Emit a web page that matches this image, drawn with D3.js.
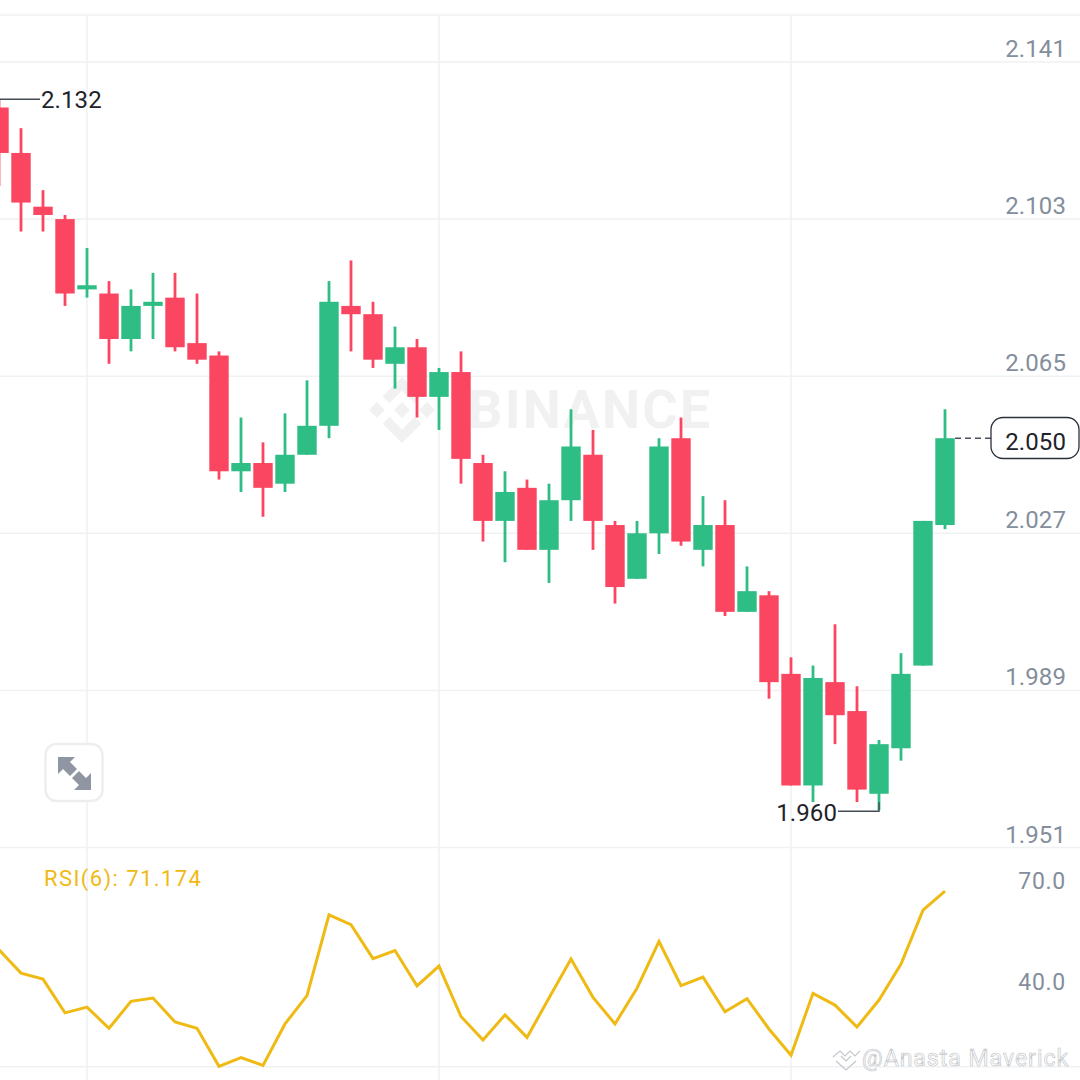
<!DOCTYPE html>
<html>
<head>
<meta charset="utf-8">
<script src="https://cdn.jsdelivr.net/npm/d3@7"></script>
<style>
    html, body { margin: 0; padding: 0; background: #fff; overflow: hidden; }
    svg { display: block; }
    text { font-family: Roboto, "Noto Sans", sans-serif; }
</style>
</head>
<body>
<div id="chart"></div>
<script>
// candle data (tick size is 0.001)
const opens = [2.130, 2.119, 2.106, 2.103, 2.086, 2.085, 2.074, 2.082, 2.084, 2.073, 2.070, 2.042, 2.044, 2.039, 2.046, 2.053, 2.082, 2.080, 2.068, 2.072, 2.060, 2.066, 2.044, 2.030, 2.038, 2.023, 2.035, 2.046, 2.029, 2.016, 2.027, 2.050, 2.023, 2.029, 2.008, 2.012, 1.993, 1.966, 1.991, 1.984, 1.964, 1.975, 1.995, 2.029];
const highs = [2.132, 2.125, 2.110, 2.104, 2.096, 2.088, 2.086, 2.090, 2.090, 2.085, 2.071, 2.055, 2.049, 2.056, 2.064, 2.088, 2.093, 2.083, 2.077, 2.074, 2.067, 2.071, 2.046, 2.042, 2.040, 2.039, 2.057, 2.052, 2.030, 2.030, 2.050, 2.055, 2.036, 2.035, 2.019, 2.013, 1.997, 1.995, 2.005, 1.990, 1.977, 1.998, 2.030, 2.057];
const lows = [2.111, 2.100, 2.100, 2.082, 2.084, 2.068, 2.071, 2.074, 2.071, 2.068, 2.040, 2.037, 2.031, 2.037, 2.046, 2.050, 2.071, 2.067, 2.062, 2.055, 2.052, 2.039, 2.025, 2.020, 2.023, 2.015, 2.030, 2.023, 2.010, 2.016, 2.022, 2.024, 2.019, 2.007, 2.008, 1.987, 1.966, 1.962, 1.976, 1.962, 1.960, 1.972, 1.995, 2.028];
const closes = [2.119, 2.107, 2.104, 2.085, 2.087, 2.074, 2.082, 2.083, 2.072, 2.069, 2.042, 2.044, 2.038, 2.046, 2.053, 2.083, 2.080, 2.069, 2.072, 2.060, 2.066, 2.045, 2.030, 2.037, 2.023, 2.035, 2.048, 2.030, 2.014, 2.027, 2.048, 2.025, 2.029, 2.008, 2.013, 1.991, 1.966, 1.992, 1.983, 1.965, 1.976, 1.993, 2.030, 2.050];
const rsiValues = [53.7, 46.8, 45.0, 35.0, 36.7, 30.4, 38.4, 39.4, 32.3, 30.4, 19.1, 21.7, 19.4, 31.7, 40.1, 64.1, 61.2, 51.1, 53.5, 43.0, 48.9, 33.9, 26.9, 34.4, 27.7, 39.4, 51.0, 39.6, 31.7, 42.3, 56.2, 43.1, 45.6, 35.3, 39.2, 30.2, 22.4, 40.8, 37.3, 30.8, 38.8, 49.5, 65.5, 71.174];

const priceTicks = [2.141, 2.103, 2.065, 2.027, 1.989, 1.951];
const rsiTicks = [70, 40];
const timeTicks = [4, 20, 36]; // candle index of the vertical gridlines
const highLabel = { index: 0, value: 2.132 };
const lowLabel = { index: 40, value: 1.960 };
const lastPrice = 2.050;

const width = 1080, height = 1080;
const red = "#fb4661", green = "#2ebd85", yellow = "#efba14";
const gridColor = "#eff1f3", tickColor = "#848e9c", darkText = "#1e2329";

// scales, price pane runs from 2.141 line down to 1.951 line
const x = d3.scaleLinear().domain([0, 43]).range([-1, 945]);
const y = d3.scaleLinear().domain([2.141, 1.951]).range([62, 847.5]);
const yRsi = d3.scaleLinear().domain([70, 40]).range([895, 996]);

const candleWidth = 19.4;
const candles = opens.map((o, i) => ({ i, o, h: highs[i], l: lows[i], c: closes[i] }));

const svg = d3.select("#chart").append("svg")
    .attr("width", width)
    .attr("height", height);

// top band
svg.append("line")
    .attr("x1", 0).attr("x2", width)
    .attr("y1", 15).attr("y2", 15)
    .attr("stroke", "#f4f5f7")
    .attr("stroke-width", 2.5);

// gridlines
svg.append("g").selectAll("line")
    .data(priceTicks)
    .enter().append("line")
    .attr("x1", 0).attr("x2", width)
    .attr("y1", d => y(d)).attr("y2", d => y(d))
    .attr("stroke", gridColor)
    .attr("stroke-width", 1.5);

svg.append("line")
    .attr("x1", 0).attr("x2", width)
    .attr("y1", yRsi(19)).attr("y2", yRsi(19))
    .attr("stroke", gridColor)
    .attr("stroke-width", 1.5);

svg.append("g").selectAll("line")
    .data(timeTicks)
    .enter().append("line")
    .attr("x1", d => x(d)).attr("x2", d => x(d))
    .attr("y1", 16).attr("y2", height)
    .attr("stroke", gridColor)
    .attr("stroke-width", 1.5);

// background watermark
const mark = svg.append("g").attr("fill", "#f1f1f2");
const markPaths = [
    "M-7 0L0 -7L7 0L0 7Z",
    "M-29 0L-22 -7L-15 0L-22 7Z",
    "M15 0L22 -7L29 0L22 7Z",
    "M0 -29L17 -12L11 -6L0 -17L-11 -6L-17 -12Z",
    "M0 29L17 12L11 6L0 17L-11 6L-17 12Z"
];
mark.selectAll("path")
    .data(markPaths)
    .enter().append("path")
    .attr("d", d => d)
    .attr("transform", "translate(402,410) scale(1.14)");
mark.append("text")
    .attr("x", 468)
    .attr("y", 428)
    .attr("font-size", 54)
    .attr("font-weight", 700)
    .attr("letter-spacing", 2.2)
    .text("BINANCE");

// wicks
svg.append("g").selectAll("line")
    .data(candles)
    .enter().append("line")
    .attr("x1", d => x(d.i)).attr("x2", d => x(d.i))
    .attr("y1", d => y(d.h)).attr("y2", d => y(d.l))
    .attr("stroke", d => d.c >= d.o ? green : red)
    .attr("stroke-width", 2.8);

// bodies
svg.append("g").selectAll("rect")
    .data(candles)
    .enter().append("rect")
    .attr("x", d => x(d.i) - candleWidth / 2)
    .attr("y", d => y(Math.max(d.o, d.c)))
    .attr("width", candleWidth)
    .attr("height", d => Math.abs(y(d.o) - y(d.c)))
    .attr("fill", d => d.c >= d.o ? green : red);

// price labels on the right
svg.append("g").selectAll("text")
    .data(priceTicks)
    .enter().append("text")
    .attr("x", 1066)
    .attr("y", d => y(d) - 5)
    .attr("text-anchor", "end")
    .attr("font-size", 24)
    .attr("letter-spacing", 0.1)
    .attr("fill", tickColor)
    .text(d => d.toFixed(3));

// high and low markers
svg.append("path")
    .attr("d", `M${x(highLabel.index)} ${y(highLabel.value)}H40`)
    .attr("fill", "none")
    .attr("stroke", "#444b55")
    .attr("stroke-width", 1.4);
svg.append("text")
    .attr("x", 41)
    .attr("y", y(highLabel.value) + 8.5)
    .attr("font-size", 24)
    .attr("letter-spacing", 0.1)
    .attr("fill", darkText)
    .text(highLabel.value.toFixed(3));

svg.append("path")
    .attr("d", `M${x(lowLabel.index)} ${y(lowLabel.value) - 8}V${y(lowLabel.value) + 1}H838`)
    .attr("fill", "none")
    .attr("stroke", "#444b55")
    .attr("stroke-width", 1.4);
svg.append("text")
    .attr("x", 837)
    .attr("y", y(lowLabel.value) + 11)
    .attr("text-anchor", "end")
    .attr("font-size", 24)
    .attr("letter-spacing", 0.1)
    .attr("fill", darkText)
    .text(lowLabel.value.toFixed(3));

// last price tag
svg.append("line")
    .attr("x1", x(43) + 10).attr("x2", 991)
    .attr("y1", y(lastPrice)).attr("y2", y(lastPrice))
    .attr("stroke", "#4a515b")
    .attr("stroke-width", 1.5)
    .attr("stroke-dasharray", "6,4");
svg.append("rect")
    .attr("x", 991)
    .attr("y", 417.5)
    .attr("width", 88)
    .attr("height", 41)
    .attr("rx", 12)
    .attr("fill", "#fff")
    .attr("stroke", "#2b3139")
    .attr("stroke-width", 1.3);
svg.append("text")
    .attr("x", 1066)
    .attr("y", 450)
    .attr("text-anchor", "end")
    .attr("font-size", 24)
    .attr("letter-spacing", 0.1)
    .attr("fill", darkText)
    .text(lastPrice.toFixed(3));

// expand button
svg.append("rect")
    .attr("x", 45.5).attr("y", 744)
    .attr("width", 57).attr("height", 57)
    .attr("rx", 11)
    .attr("fill", "#fff")
    .attr("stroke", "#eceef0")
    .attr("stroke-width", 2.5);
svg.append("path")
    .attr("fill", "#8f96a2")
    .attr("d", "M58 757H75L70 762L77 769L70 776L63 769L58 774Z M91 790H74L79 785L72 778L79 771L86 778L91 773Z");

// RSI pane
svg.append("text")
    .attr("x", 44)
    .attr("y", 886)
    .attr("font-size", 22)
    .attr("letter-spacing", 1.4)
    .attr("fill", yellow)
    .text("RSI(6): 71.174");

const rsiLine = d3.line()
    .x((d, i) => x(i))
    .y(d => yRsi(d));

svg.append("path")
    .datum(rsiValues)
    .attr("d", rsiLine)
    .attr("fill", "none")
    .attr("stroke", yellow)
    .attr("stroke-width", 3);

svg.append("g").selectAll("text")
    .data(rsiTicks)
    .enter().append("text")
    .attr("x", 1066)
    .attr("y", d => yRsi(d) - 6)
    .attr("text-anchor", "end")
    .attr("font-size", 23)
    .attr("letter-spacing", 0.7)
    .attr("fill", tickColor)
    .text(d => d.toFixed(1));

// author watermark, outlined text
const author = svg.append("g");
author.append("path")
    .attr("d", "M833 1057L840 1051L845 1056L850 1051L855 1056L860 1051M836 1061L846 1070L856 1061M841 1056L846 1061L851 1056")
    .attr("fill", "none")
    .attr("stroke", "#c4c7cb")
    .attr("stroke-width", 1.2);
author.append("text")
    .attr("x", 862)
    .attr("y", 1066)
    .attr("font-size", 23)
    .attr("letter-spacing", 1)
    .attr("fill", "#fff")
    .attr("stroke", "#c4c7cb")
    .attr("stroke-width", 0.7)
    .text("@Anasta Maverick");
</script>
</body>
</html>
